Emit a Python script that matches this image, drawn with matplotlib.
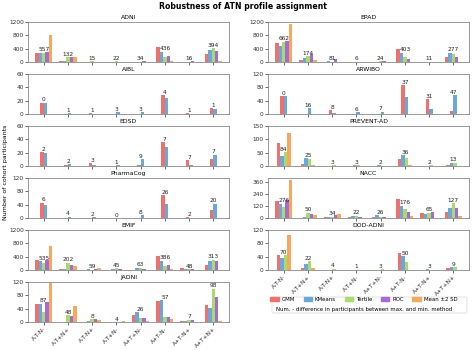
import numpy as np
import matplotlib.pyplot as plt
from matplotlib.patches import Patch, FancyBboxPatch

categories = ['A-T-N-', 'A-T+N+', 'A-T-N+', 'A-T+N-', 'A+T+N-', 'A+T-N-', 'A+T-N+', 'A+T+N+']
methods = ['GMM', 'KMeans', 'Tertile', 'ROC', 'Mean \u00b12 SD']
colors = ['#f0706b', '#68a8dc', '#a8dc68', '#a868d6', '#f7a85a']
nan = np.nan

# rows = categories, columns = GMM, KMeans, Tertile, ROC, Mean +-2 SD
adni = [[270, 258, 275, 300, 815], [18, 30, 150, 140, 145], [5, 8, 18, 10, 3], [3, 10, 25, 8, 5],
        [8, 15, 4, 38, 6], [456, 308, 154, 174, 20], [10, 8, 3, 19, 5], [226, 359, 410, 339, 16]]
adni_diff = [557, 132, 15, 22, 34, 436, 16, 394]

epad = [[585, 492, 615, 626, 1154], [52, 113, 174, 226, 60], [12, 20, 5, 86, 15], [2, 4, 8, 5, 3],
        [8, 12, 20, 28, 4], [405, 277, 164, 103, 2], [5, 14, 3, 8, 6], [154, 277, 226, 154, 0]]
epad_diff = [662, 174, 81, 6, 24, 403, 11, 277]

aibl = [[17, 17, nan, nan, nan], [0, 1, nan, nan, nan], [1, 0, nan, nan, nan], [0, 3, nan, nan, nan],
        [0, 3, nan, nan, nan], [28, 24, nan, nan, nan], [1, 0, nan, nan, nan], [9, 8, nan, nan, nan]]
aibl_diff = [0, 1, 1, 3, 3, 4, 1, 1]

arwibo = [[54, 54, nan, nan, nan], [1, 17, nan, nan, nan], [12, 4, nan, nan, nan], [0, 6, nan, nan, nan],
          [0, 7, nan, nan, nan], [87, 50, nan, nan, nan], [45, 14, nan, nan, nan], [10, 57, nan, nan, nan]]
arwibo_diff = [0, 16, 8, 6, 7, 37, 31, 47]

edsd = [[21, 19, nan, nan, nan], [1, 3, nan, nan, nan], [4, 1, nan, nan, nan], [0, 1, nan, nan, nan],
        [1, 10, nan, nan, nan], [36, 29, nan, nan, nan], [9, 2, nan, nan, nan], [10, 17, nan, nan, nan]]
edsd_diff = [2, 2, 3, 1, 9, 7, 7, 7]

prevent = [[85, 38, 52, nan, 122], [8, 30, 28, nan, 5], [0, 1, 3, nan, 1], [1, 3, 2, nan, 0],
           [0, 2, 1, nan, 0], [28, 41, 31, nan, 5], [0, 1, 2, nan, 0], [4, 13, 10, nan, 0]]
prevent_diff = [84, 25, 3, 3, 2, 36, 2, 13]

pharmacog = [[46, 40, nan, nan, nan], [0, 4, nan, nan, nan], [1, 3, nan, nan, nan], [0, 0, nan, nan, nan],
             [0, 8, nan, nan, nan], [68, 42, nan, nan, nan], [3, 1, nan, nan, nan], [23, 43, nan, nan, nan]]
pharmacog_diff = [6, 4, 2, 0, 8, 26, 2, 20]

nacc = [[175, 145, 107, 185, 383], [5, 15, 55, 38, 35], [6, 10, 14, 30, 40], [10, 18, 25, 8, 3],
        [8, 28, 10, 6, 2], [195, 125, 88, 65, 19], [50, 45, 55, 65, 0], [65, 100, 150, 105, 23]]
nacc_diff = [276, 50, 34, 22, 26, 176, 65, 127]

emif = [[300, 260, 200, 290, 735], [20, 30, 222, 140, 110], [3, 20, 15, 40, 62], [8, 30, 48, 20, 3],
        [10, 50, 66, 25, 3], [416, 280, 120, 150, 30], [50, 30, 20, 35, 2], [160, 280, 313, 280, 0]]
emif_diff = [535, 202, 59, 45, 63, 386, 48, 313]

dod_adni = [[45, 35, 45, nan, 105], [6, 17, 27, nan, 5], [1, 0, 4, nan, 0], [0, 1, 0, nan, 0],
            [0, 1, 3, nan, 0], [50, 42, 23, nan, 0], [1, 3, 0, nan, 0], [7, 8, 9, nan, 0]]
dod_adni_diff = [70, 22, 4, 1, 3, 50, 3, 9]

jadni = [[55, 55, 31, 60, 118], [0, 0, 20, 18, 48], [0, 2, 8, 8, 6], [0, 0, 0, 0, 4],
         [20, 30, 12, 11, 4], [64, 66, 14, 16, 9], [4, 2, 7, 5, 0], [50, 42, 100, 76, 2]]
jadni_diff = [87, 48, 8, 4, 26, 57, 7, 98]

# (name, values, diffs, ymax, yticks, column, row)
panels = [
    ('ADNI', adni, adni_diff, 1200, [0, 400, 800, 1200], 0, 0),
    ('AIBL', aibl, aibl_diff, 60, [0, 20, 40, 60], 0, 1),
    ('EDSD', edsd, edsd_diff, 60, [0, 20, 40, 60], 0, 2),
    ('PharmaCog', pharmacog, pharmacog_diff, 120, [0, 40, 80, 120], 0, 3),
    ('EMIF', emif, emif_diff, 1200, [0, 400, 800, 1200], 0, 4),
    ('JADNI', jadni, jadni_diff, 120, [0, 40, 80, 120], 0, 5),
    ('EPAD', epad, epad_diff, 1200, [0, 400, 800, 1200], 1, 0),
    ('ARWIBO', arwibo, arwibo_diff, 120, [0, 40, 80, 120], 1, 1),
    ('PREVENT-AD', prevent, prevent_diff, 150, [0, 50, 100, 150], 1, 2),
    ('NACC', nacc, nacc_diff, 400, [0, 120, 240, 360], 1, 3),
    ('DOD-ADNI', dod_adni, dod_adni_diff, 120, [0, 40, 80, 120], 1, 4),
]

W, H = 474, 350
fig = plt.figure(figsize=(W / 100, H / 100), dpi=100)
col_x = [(28, 229), (268, 469)]
fs = 4.2
w = 0.143
x = np.arange(len(categories))

for name, vals, diffs, ymax, yticks, c, r in panels:
    vals = np.array(vals, dtype=float)
    l, rr = col_x[c]
    top = 22 + 52 * r
    ax = fig.add_axes([l / W, 1 - (top + 40) / H, (rr - l) / W, 40 / H])
    present = [j for j in range(len(methods)) if not np.all(np.isnan(vals[:, j]))]
    n = len(present)
    for k, j in enumerate(present):
        ax.bar(x + (k - (n - 1) / 2) * w, vals[:, j], w, color=colors[j], linewidth=0)
    if n > 2:
        lab_y = np.nanmax(vals[:, 1:3], axis=1)
    else:
        lab_y = np.nanmax(vals, axis=1)
    for xi, yi, d in zip(x, lab_y, diffs):
        ax.text(xi, yi + ymax * 0.01, str(d), ha='center', va='bottom', fontsize=fs, color='#222222')
    ax.set_xlim(-0.65, 7.65)
    ax.set_ylim(0, ymax)
    ax.set_yticks(yticks)
    ax.set_xticks(x)
    if r == 5 or (c == 1 and r == 4):
        ax.set_xticklabels(categories, rotation=45, ha='right', rotation_mode='anchor')
    else:
        ax.set_xticklabels([])
    ax.set_title(name, fontsize=fs + 0.2, pad=2)
    ax.tick_params(labelsize=fs, length=2, width=0.5, pad=1, colors='#333333')
    for s in ax.spines.values():
        s.set_linewidth(0.6)
        s.set_color('#888888')

fig.suptitle('Robustness of ATN profile assignment', fontsize=5.6, fontweight='bold', x=0.513, y=0.995)
fig.text(6 / W, 1 - 172 / H, 'Number of cohort participants', rotation=90, ha='center', va='center', fontsize=fs + 0.3)

# legend
handles = [Patch(color=cl, label=m) for cl, m in zip(colors, methods)]
fig.legend(handles=handles, ncol=5, frameon=False, fontsize=3.9, loc='upper left',
           bbox_to_anchor=(269 / W, 1 - 296 / H), handlelength=1.6, handleheight=0.6,
           handletextpad=0.5, columnspacing=1.6, borderaxespad=0, borderpad=0.2)
fig.text(276 / W, 1 - 309.5 / H, 'Num. - difference in participants between max. and min. method',
         fontsize=3.9, ha='left', va='center')
frame = FancyBboxPatch((272 / W, 1 - 313 / H), 195 / W, 16 / H, boxstyle='round,pad=0,rounding_size=0.004',
                       transform=fig.transFigure, facecolor='none', edgecolor='#dddddd', linewidth=0.6)
fig.patches.append(frame)

fig.savefig('out.png', dpi=100)
